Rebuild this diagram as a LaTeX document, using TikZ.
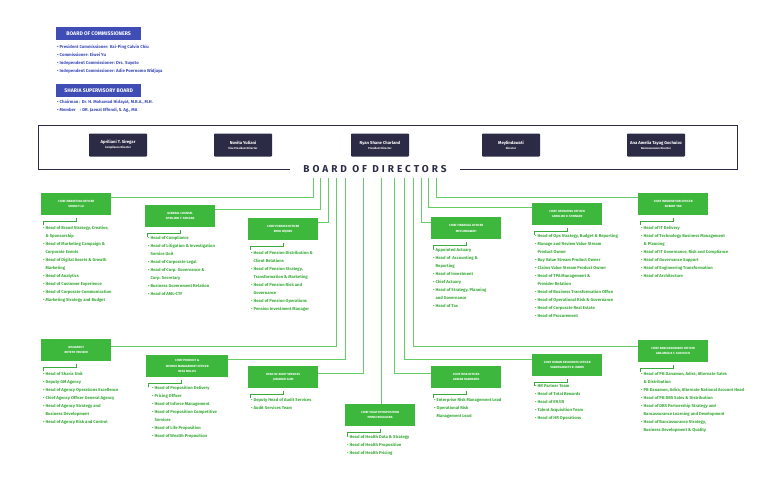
\documentclass[tikz,border=0pt]{standalone}
\usepackage{fontspec}
\setmainfont{Fira Sans}
\definecolor{comblue}{HTML}{3F4DB5}
\definecolor{navy}{HTML}{2B2B45}
\definecolor{offgreen}{HTML}{3DB83D}
\definecolor{linegreen}{HTML}{66CC66}
\definecolor{itemgreen}{HTML}{3AAA3A}
\newcommand{\bul}{\textbullet\ }
\newcommand{\cont}{\hphantom{\textbullet\ }}
\begin{document}
\begin{tikzpicture}[x=1pt,y=-1pt,
    board/.style={fill=comblue,text=white,font=\fontsize{5.2}{5}\selectfont\bfseries,minimum width=85pt,minimum height=13pt,inner sep=0pt},
    blist/.style={text=comblue,font=\fontsize{4.3}{8}\selectfont\bfseries,align=left,anchor=north west,inner sep=0pt},
    director/.style={fill=navy,text=white,font=\fontsize{4.2}{6}\selectfont\bfseries,minimum width=58pt,minimum height=23pt,align=center,inner sep=0pt,rounded corners=0.8pt},
    officer/.style={fill=offgreen,text=white,font=\fontsize{3}{5.5}\selectfont\bfseries,minimum width=70pt,minimum height=22pt,align=center,inner sep=0pt,anchor=north west},
    items/.style={text=itemgreen,font=\fontsize{4.2}{8}\selectfont\bfseries,align=left,anchor=north west,inner sep=0pt},
    link/.style={draw=linegreen,line width=0.8pt},
    bracket/.style={draw=itemgreen,line width=0.7pt},
]
\useasboundingbox (0,0) rectangle (768,491);

% commissioners
\node[board,anchor=north west] (boc) at (56,27) {BOARD OF COMMISSIONERS};
\node[blist] (bocl) at (57,45) {\bul President Commissioner: Kai-Ping Calvin Chiu\\
\bul Commissioner: Eiwei Yu\\
\bul Independent Commissioner: Drs. Suyoto\\
\bul Independent Commissioner: Adie Poernomo Widjaya};
\node[board,anchor=north west] (ssb) at (56,84) {SHARIA SUPERVISORY BOARD};
\node[blist] (ssbl) at (57,100) {\bul Chairman : Dr. H. Mohamad Hidayat, M.B.A., M.H.\\
\bul Member \enspace\ : DR. Jaenal Effendi, S. Ag., MA};

% board of directors
\draw[navy,line width=0.8pt] (290,169) -- (38,169) -- (38,125) -- (737,125) -- (737,169) -- (460,169);
\node[text=navy,font=\fontsize{10}{10}\selectfont\bfseries\addfontfeatures{LetterSpace=30}] (bod) at (375,169) {BOARD OF DIRECTORS};
\node[director] (d1) at (118,145) {Apriliani T. Siregar\\[-1pt]{\fontsize{2.8}{4}\selectfont Compliance Director}};
\node[director] (d2) at (243,145) {Novita Yuliani\\[-1pt]{\fontsize{2.8}{4}\selectfont Vice President Director}};
\node[director] (d3) at (380,145) {Ryan Shane Charland\\[-1pt]{\fontsize{2.8}{4}\selectfont President Director}};
\node[director] (d4) at (511,145) {Meylindawati\\[-1pt]{\fontsize{2.8}{4}\selectfont Director}};
\node[director] (d5) at (656,145) {Ana Amelia Tayag Gochuico\\[-1pt]{\fontsize{2.8}{4}\selectfont Bancassurance Director}};

% officers
\node[officer] (cmo) at (41,193) {CHIEF MARKETING OFFICER\\SHIRLEY LU};
\node[officer] (gc) at (145,205) {GENERAL COUNSEL\\APRILIANI T. SIREGAR};
\node[officer] (cpo) at (248,218) {CHIEF PENSION OFFICER\\ERDO WIJONO};
\node[officer] (cfo) at (431,217) {CHIEF FINANCIAL OFFICER\\MEYLINDAWATI};
\node[officer] (coo) at (532,203) {CHIEF OPERATING OFFICER\\CAROLINE D. STRINGER};
\node[officer] (cio) at (638,193) {CHIEF INFORMATION OFFICER\\ROBERT TAN};
\node[officer] (gma) at (41,339) {GM AGENCY\\ROYETH TRUSBIH};
\node[officer,minimum width=82pt] (cpimo) at (146,355) {CHIEF PRODUCT \&\\INFORCE MANAGEMENT OFFICER\\REAS MULLIS};
\node[officer] (has) at (248,366) {HEAD OF AUDIT SERVICES\\JUNUMATI GURI};
\node[officer] (chpo) at (345,404) {CHIEF HEALTH PROPOSITION\\PRINSI RUKAILENA};
\node[officer] (cro) at (431,366) {CHIEF RISK OFFICER\\ADRIAN HARMANTO};
\node[officer] (chro) at (532,354) {CHIEF HUMAN RESOURCES OFFICER\\SANDYGARLETS R. MARDI};
\node[officer] (cbo) at (638,340) {CHIEF BANCASSURANCE OFFICER\\ANA AMELIA T. GOCHUICO};

% connectors
\draw[link] (313,178) |- (cmo.east |- 0,197);
\draw[link] (320,178) |- (gc.east |- 0,209);
\draw[link] (328,178) |- (cpo.east |- 0,222);
\draw[link] (336,178) |- (gma.east |- 0,346);
\draw[link] (345,178) |- (cpimo.east |- 0,359);
\draw[link] (363,178) |- (has.east |- 0,373);
\draw[link] (381,178) -- (chpo.north -| 381,0);
\draw[link] (394,178) |- (cro.west |- 0,373);
\draw[link] (404,178) |- (chro.west |- 0,359);
\draw[link] (413,178) |- (cbo.west |- 0,346);
\draw[link] (421,178) |- (cfo.west |- 0,222);
\draw[link] (428,178) |- (coo.west |- 0,207);
\draw[link] (436,178) |- (cio.west |- 0,197);

% brackets
\foreach \o in {cmo,gc,cpo,cfo,coo,cio,gma,cpimo,has,chpo,cro,chro,cbo}{
  \draw[bracket] ([xshift=2pt,yshift=-10pt]\o.south west) -- ([xshift=2pt,yshift=-6pt]\o.south west) -- ([xshift=35pt,yshift=-6pt]\o.south west) -- ([xshift=35pt,yshift=-3pt]\o.south west);
}

% item lists
\node[items] (cmol) at (43,226) {\bul Head of Brand Strategy, Creative,\\\cont \& Sponsorship\\
\bul Head of Marketing Campaign \&\\\cont Corporate Events\\
\bul Head of Digital Assets \& Growth\\\cont Marketing\\
\bul Head of Analytics\\
\bul Head of Customer Experience\\
\bul Head of Corporate Communication\\
\bul Marketing Strategy and Budget};
\node[items] (gcl) at (148,236) {\bul Head of Compliance\\
\bul Head of Litigation \& Investigation\\\cont Service Unit\\
\bul Head of Corporate Legal\\
\bul Head of Corp. Governance \&\\\cont Corp. Secretary\\
\bul Business Government Relation\\
\bul Head of AML-CTF};
\node[items] (cpol) at (251,251) {\bul Head of Pension Distribution \&\\\cont Client Relations\\
\bul Head of Pension Strategy,\\\cont Transformation \& Marketing\\
\bul Head of Pension Risk and\\\cont Governance\\
\bul Head of Pension Operations\\
\bul Pension Investment Manager};
\node[items] (cfol) at (433,248) {\bul Appointed Actuary\\
\bul Head of \ Accounting \&\\\cont Reporting\\
\bul Head of Investment\\
\bul Chief Actuary\\
\bul Head of Strategy, Planning\\\cont and Governance\\
\bul Head of Tax};
\node[items] (cool) at (535,234) {\bul Head of Ops Strategy, Budget \& Reporting\\
\bul Manage and Review Value Stream\\\cont Product Owner\\
\bul Buy Value Stream Product Owner\\
\bul Claims Value Stream Product Owner\\
\bul Head of TPA Management \&\\\cont Provider Relation\\
\bul Head of Business Transformation Office\\
\bul Head of Operational Risk \& Governance\\
\bul Head of Corporate Real Estate\\
\bul Head of Procurement};
\node[items] (ciol) at (641,226) {\bul Head of IT Delivery\\
\bul Head of Technology Business Management\\\cont \& Planning\\
\bul Head of IT Governance, Risk and Compliance\\
\bul Head of Governance Support\\
\bul Head of Engineering Transformation\\
\bul Head of Architecture};
\node[items] (gmal) at (43,372) {\bul Head of Sharia Unit\\
\bul Deputy GM Agency\\
\bul Head of Agency Operations Excellence\\
\bul Chief Agency Officer General Agency\\
\bul Head of Agency Strategy and\\\cont Business Development\\
\bul Head of Agency Risk and Control};
\node[items] (cpimol) at (152,386) {\bul Head of Proposition Delivery\\
\bul Pricing Officer\\
\bul Head of Inforce Management\\
\bul Head of Proposition Competitive\\\cont Services\\
\bul Head of Life Proposition\\
\bul Head of Wealth Proposition};
\node[items] (hasl) at (251,398) {\bul Deputy Head of Audit Services\\
\bul Audit Services Team};
\node[items] (chpol) at (347,435) {\bul Head of Health Data \& Strategy\\
\bul Head of Health Proposition\\
\bul Head of Health Pricing};
\node[items] (crol) at (434,398) {\bul Enterprise Risk Management Lead\\
\bul Operational Risk\\\cont Management Lead};
\node[items] (chrol) at (535,384) {\bul HR Partner Team\\
\bul Head of Total Rewards\\
\bul Head of ER/IR\\
\bul Talent Acquisition Team\\
\bul Head of HR Operations};
\node[items] (cbol) at (641,372) {\bul Head of PB Danamon, Adira, Alternate Sales\\\cont \& Distribution\\
\bul PB Danamon, Adira, Alternate National Account Head\\
\bul Head of PB DBS Sales \& Distribution\\
\bul Head of DBS Partnership Strategy and\\\cont Bancassurance Learning and Development\\
\bul Head of Bancassurance Strategy,\\\cont Business Development \& Quality};
\end{tikzpicture}
\end{document}
